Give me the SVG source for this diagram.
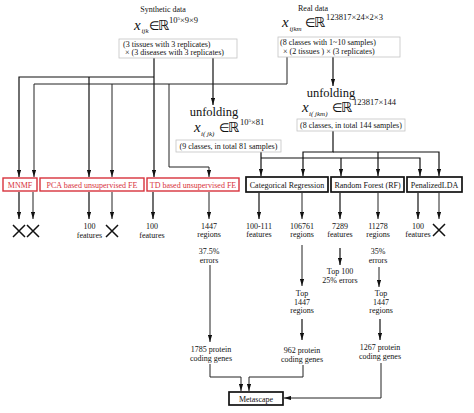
<svg xmlns="http://www.w3.org/2000/svg" width="474" height="413" viewBox="0 0 474 413">
<defs>
<style>
.t{font-family:"Liberation Serif","Times New Roman",serif;font-size:8px;fill:#111;text-anchor:middle}
.tl{font-family:"Liberation Serif","Times New Roman",serif;font-size:8px;fill:#111}
.uf{font-family:"Liberation Serif","Times New Roman",serif;font-size:12.5px;fill:#111;text-anchor:middle}
.mx{font-family:"Liberation Serif","Times New Roman",serif;font-style:italic;font-size:15px;fill:#111}
.ms{font-family:"Liberation Serif","Times New Roman",serif;font-style:italic;font-size:7px;fill:#111}
.mr{font-family:"DejaVu Sans",sans-serif;font-size:14px;fill:#111}
.me{font-family:"DejaVu Sans",sans-serif;font-size:12px;fill:#111}
.sp{font-family:"Liberation Serif","Times New Roman",serif;font-size:8.5px;fill:#111}
.gb{fill:#fff;stroke:#c4c4c4;stroke-width:0.8}
.rb{fill:#fff;stroke:#d8323c;stroke-width:1.4}
.rt{font-family:"Liberation Serif","Times New Roman",serif;font-size:8px;fill:#d8323c;text-anchor:middle}
.bb{fill:#fff;stroke:#111;stroke-width:1.7}
.c{fill:none;stroke:#111;stroke-width:1.2}
.c2{fill:none;stroke:#222;stroke-width:1}
.a{marker-end:url(#ah)}
.x{stroke:#111;stroke-width:1.5;fill:none}
</style>
<marker id="ah" viewBox="0 0 10 6" refX="10" refY="3" markerWidth="7" markerHeight="4.4" markerUnits="userSpaceOnUse" orient="auto">
<path d="M0,0 L10,3 L0,6 z" fill="#111"/>
</marker>
</defs>

<g id="connectors">
<path class="c a" d="M154,58 V177"/>
<path class="c a" d="M154,77 H19 V177"/>
<path class="c a" d="M89,77 V177"/>
<path class="c a" d="M213,58 V105"/>
<path class="c2 a" d="M287,57 V84 H34 V177"/>
<path class="c2 a" d="M112,84 V177"/>
<path class="c2 a" d="M169,84 V167 H209 V177"/>
<path class="c a" d="M333,57 V86"/>
<path class="c a" d="M261,152 V176"/>
<path class="c a" d="M261,158 H420 V176"/>
<path class="c a" d="M341,158 V176"/>
<path class="c a" d="M333,131 V152 H303 V176"/>
<path class="c a" d="M333,152 H439 V176"/>
<path class="c a" d="M378,152 V176"/>
<path class="c a" d="M19,192 V219"/>
<path class="c2 a" d="M33,192 V219"/>
<path class="c a" d="M89,192 V219"/>
<path class="c2 a" d="M112,192 V219"/>
<path class="c a" d="M153,192 V219"/>
<path class="c2 a" d="M209,192 V219"/>
<path class="c a" d="M259,193 V219"/>
<path class="c2 a" d="M302,193 V219"/>
<path class="c a" d="M340,193 V219"/>
<path class="c2 a" d="M378,193 V219"/>
<path class="c a" d="M418,193 V219"/>
<path class="c2 a" d="M439,193 V219"/>
<path class="c2 a" d="M210,265 V342"/>
<path class="c2 a" d="M302,245 V286"/>
<path class="c a" d="M340,248 V265"/>
<path class="c2 a" d="M379,267 V287"/>
<path class="c a" d="M302,319 V340"/>
<path class="c a" d="M380,319 V340"/>
<path class="c2 a" d="M210,364 V377 H241 V391"/>
<path class="c2 a" d="M303,365 V377 H249 V391"/>
<path class="c2 a" d="M381,363 V398 H284"/>
</g>

<g id="synthetic-data">
<text class="t" x="163" y="12">Synthetic data</text>
<text class="mx" x="134" y="30">x</text>
<text class="ms" x="141.5" y="33">ijk</text>
<text class="me" x="149" y="30">∈</text>
<text class="mr" x="158" y="30">ℝ</text>
<text class="sp" x="169" y="23">10<tspan font-size="5" dy="-3">5</tspan><tspan dy="3">×9×9</tspan></text>
<rect class="gb" x="119" y="39" width="118" height="19"/>
<text class="tl" x="123" y="46.5">(3 tissues with 3 replicates)</text>
<text class="tl" x="125" y="55">× (3 diseases with 3 replicates)</text>
</g>

<g id="real-data">
<text class="t" x="313" y="11">Real data</text>
<text class="mx" x="282" y="27">x</text>
<text class="ms" x="289.5" y="31">ijkm</text>
<text class="me" x="305" y="27">∈</text>
<text class="mr" x="314" y="27">ℝ</text>
<text class="sp" x="326" y="19.5">123817×24×2×3</text>
<rect class="gb" x="278" y="37" width="122" height="20"/>
<text class="tl" x="280" y="44.5">(8 classes with 1~10 samples)</text>
<text class="tl" x="283" y="53.5">× (2 tissues ) × (3 replicates)</text>
</g>

<g id="synthetic-unfolding">
<text class="uf" x="214" y="116">unfolding</text>
<text class="mx" x="194" y="132" font-size="13.5">x</text>
<text class="ms" x="201" y="135.5">i( jk)</text>
<text class="me" x="219" y="132" font-size="11">∈</text>
<text class="mr" x="228" y="132" font-size="13">ℝ</text>
<text class="sp" x="240" y="125">10<tspan font-size="5" dy="-3">5</tspan><tspan dy="3">×81</tspan></text>
<rect class="gb" x="176" y="140" width="105" height="12"/>
<text class="t" x="228.5" y="148.5">(9 classes, in total 81 samples)</text>
</g>

<g id="real-unfolding">
<text class="uf" x="331" y="97">unfolding</text>
<text class="mx" x="302" y="112">x</text>
<text class="ms" x="309" y="116">i( jkm)</text>
<text class="me" x="332" y="112">∈</text>
<text class="mr" x="341" y="112">ℝ</text>
<text class="sp" x="353" y="105">123817×144</text>
<rect class="gb" x="297" y="119" width="108" height="12"/>
<text class="t" x="351" y="127.5">(8 classes, in total 144 samples)</text>
</g>

<g id="mnmf">
<rect class="rb" x="3" y="178" width="34" height="13"/>
<text class="rt" x="20" y="187.5">MNMF</text>
<path class="x" d="M13,225 L25,237 M25,225 L13,237"/>
<path class="x" d="M27,225 L39,237 M39,225 L27,237"/>
</g>

<g id="pca">
<rect class="rb" x="40" y="178" width="104" height="13"/>
<text class="rt" x="92" y="187.5">PCA based unsupervised FE</text>
<text class="t" x="89.5" y="229">100</text>
<text class="t" x="89.5" y="237.5">features</text>
<path class="x" d="M106,225 L118,237 M118,225 L106,237"/>
</g>

<g id="td">
<rect class="rb" x="147" y="178" width="92" height="13"/>
<text class="rt" x="193" y="187.5">TD based unsupervised FE</text>
<text class="t" x="152" y="229">100</text>
<text class="t" x="152" y="237.5">features</text>
<text class="t" x="209" y="228.5">1447</text>
<text class="t" x="209" y="237">regions</text>
<text class="t" x="209" y="254">37.5%</text>
<text class="t" x="209" y="262.5">errors</text>
<text class="t" x="211" y="352">1785 protein</text>
<text class="t" x="211" y="360.5">coding genes</text>
</g>

<g id="categorical-regression">
<rect class="bb" x="246" y="177" width="82" height="15"/>
<text class="t" x="287" y="188">Categorical Regression</text>
<text class="t" x="259" y="228.5">100-111</text>
<text class="t" x="259" y="237">features</text>
<text class="t" x="302" y="228.5">106761</text>
<text class="t" x="302" y="237">regions</text>
<text class="t" x="302" y="296">Top</text>
<text class="t" x="302" y="304.5">1447</text>
<text class="t" x="302" y="313">regions</text>
<text class="t" x="302" y="353">962 protein</text>
<text class="t" x="302" y="361.5">coding genes</text>
</g>

<g id="random-forest">
<rect class="bb" x="331" y="177" width="73" height="15"/>
<text class="t" x="367.5" y="188">Random Forest (RF)</text>
<text class="t" x="340" y="228.5">7289</text>
<text class="t" x="340" y="237">features</text>
<text class="t" x="378" y="228.5">11278</text>
<text class="t" x="378" y="237">regions</text>
<text class="t" x="378" y="254">35%</text>
<text class="t" x="378" y="262.5">errors</text>
<text class="t" x="340" y="274">Top 100</text>
<text class="t" x="340" y="282.5">25% errors</text>
<text class="t" x="381" y="296">Top</text>
<text class="t" x="381" y="304.5">1447</text>
<text class="t" x="381" y="313">regions</text>
<text class="t" x="380" y="350">1267 protein</text>
<text class="t" x="380" y="358.5">coding genes</text>
</g>

<g id="penalized-lda">
<rect class="bb" x="407" y="177" width="55" height="15"/>
<text class="t" x="434.5" y="188">PenalizedLDA</text>
<text class="t" x="418" y="228.5">100</text>
<text class="t" x="418" y="237">features</text>
<path class="x" d="M433,224 L445,236 M445,224 L433,236"/>
</g>

<g id="metascape">
<rect class="bb" x="229" y="392" width="54" height="13"/>
<text class="t" x="256" y="401.5">Metascape</text>
</g>
</svg>
